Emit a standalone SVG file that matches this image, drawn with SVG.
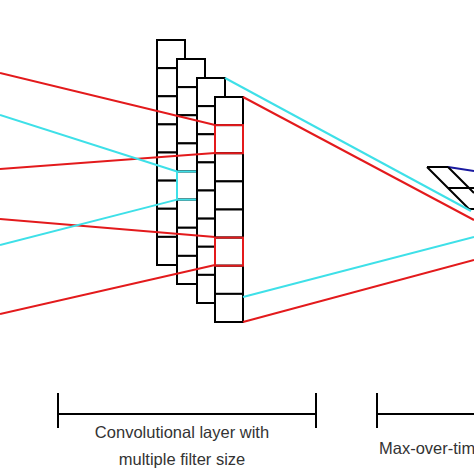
<svg xmlns="http://www.w3.org/2000/svg" width="474" height="474" viewBox="0 0 474 474">
<defs>
<style>
.box{fill:#fff;stroke:#000;stroke-width:2}
.red{fill:none;stroke:#e31a1c;stroke-width:2}
.cyan{fill:none;stroke:#3ee0e8;stroke-width:2}
.blk{fill:none;stroke:#000;stroke-width:2}
.blue{fill:none;stroke:#1a1aa0;stroke-width:2}
.lbl{font-family:"Liberation Sans",Arial,sans-serif;font-size:16.5px;fill:#333}
</style>
<g id="col">
<rect class="box" x="0" y="0" width="28" height="28.125"/>
<rect class="box" x="0" y="28.125" width="28" height="28.125"/>
<rect class="box" x="0" y="56.25" width="28" height="28.125"/>
<rect class="box" x="0" y="84.375" width="28" height="28.125"/>
<rect class="box" x="0" y="112.5" width="28" height="28.125"/>
<rect class="box" x="0" y="140.625" width="28" height="28.125"/>
<rect class="box" x="0" y="168.75" width="28" height="28.125"/>
<rect class="box" x="0" y="196.875" width="28" height="28.125"/>
</g>
</defs>
<rect width="474" height="474" fill="#fff"/>
<g id="stack1"><use href="#col" x="157" y="40"/></g>
<g id="stack2"><use href="#col" x="177" y="59"/>
<rect class="cyan" x="177" y="171.5" width="28" height="28.1"/></g>
<g id="stack3"><use href="#col" x="197" y="78"/></g>
<g id="connectors-left">
<line class="red" x1="0" y1="73" x2="215" y2="125"/>
<line class="red" x1="0" y1="169" x2="215" y2="153"/>
<line class="red" x1="0" y1="219" x2="215" y2="237"/>
<line class="red" x1="0" y1="314" x2="215" y2="265"/>
<line class="cyan" x1="0" y1="115" x2="177" y2="171.5"/>
<line class="cyan" x1="0" y1="245" x2="177" y2="199.6"/>
</g>
<g id="stack4"><use href="#col" x="215" y="97"/>
<rect class="red" x="215" y="125.1" width="28" height="28.1"/>
<rect class="red" x="215" y="237.6" width="28" height="28.1"/></g>
<g id="pool">
<line class="blue" x1="448" y1="167" x2="474" y2="171"/>
<path class="blk" d="M427,167 H448 M427,167 L469,209 H474 M448,167 L474,193 M448,188 H474"/>
</g>
<g id="connectors-right">
<line class="cyan" x1="225" y1="78" x2="471" y2="211"/>
<line class="red" x1="243" y1="97" x2="474" y2="220"/>
<line class="cyan" x1="243" y1="297" x2="474" y2="237"/>
<line class="red" x1="243" y1="322" x2="474" y2="260"/>
</g>
<g id="bracket1">
<path class="blk" d="M58,393 V428 M58,414 H316 M316,393 V428"/>
<text class="lbl" x="182" y="438" text-anchor="middle">Convolutional layer with</text>
<text class="lbl" x="182" y="465" text-anchor="middle">multiple filter size</text>
</g>
<g id="bracket2">
<path class="blk" d="M377,393 V428 M377,414 H474"/>
<text class="lbl" x="379" y="454">Max-over-tim</text>
</g>
</svg>
